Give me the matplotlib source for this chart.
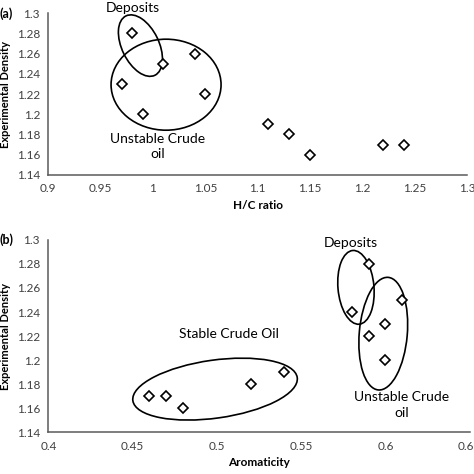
import numpy as np
import matplotlib
matplotlib.use("Agg")
import matplotlib.pyplot as plt
from matplotlib.patches import Ellipse
from matplotlib.transforms import IdentityTransform
from matplotlib.ticker import FuncFormatter

plt.rcParams['font.family'] = ['Lato', 'DejaVu Sans']

# panel (a): H/C ratio vs density
hc_ratio = [0.98, 1.01, 1.04, 0.97, 1.05, 0.99, 1.11, 1.13, 1.15, 1.22, 1.24]
density_a = [1.28, 1.25, 1.26, 1.23, 1.22, 1.20, 1.19, 1.18, 1.16, 1.17, 1.17]

# panel (b): aromaticity vs density
aromaticity = [0.59, 0.58, 0.61, 0.60, 0.59, 0.60, 0.54, 0.52, 0.46, 0.47, 0.48]
density_b = [1.28, 1.24, 1.25, 1.23, 1.22, 1.20, 1.19, 1.18, 1.17, 1.17, 1.16]

density_ticks = np.round(np.arange(1.14, 1.301, 0.02), 2)
hc_ticks = np.round(np.arange(0.9, 1.301, 0.05), 2)
arom_ticks = np.round(np.arange(0.4, 0.651, 0.05), 2)

fmt = FuncFormatter(lambda v, p: f"{v:g}")
tick_col = '#404040'


def setup(ax, xticks, xlabel):
    ax.set_xlim(xticks[0], xticks[-1])
    ax.set_ylim(density_ticks[0], density_ticks[-1])
    ax.set_xticks(xticks)
    ax.set_yticks(density_ticks)
    ax.xaxis.set_major_formatter(fmt)
    ax.yaxis.set_major_formatter(fmt)
    ax.tick_params(length=0, labelsize=8.5, colors=tick_col, pad=6)
    ax.spines['top'].set_visible(False)
    ax.spines['right'].set_visible(False)
    for s in ('left', 'bottom'):
        ax.spines[s].set_color('#5a5a5a')
        ax.spines[s].set_linewidth(1.1)
    ax.set_xlabel(xlabel, fontsize=8.5, fontweight='bold', labelpad=4)
    ax.set_ylabel('Experimental Density', fontsize=8, fontweight='bold', labelpad=4)


def ring(ax, x, y, w, h, angle):
    # ellipse centred on a data point, size in pixels
    cx, cy = ax.transData.transform((x, y))
    ax.add_patch(Ellipse((cx, cy), w, h, angle=angle, transform=IdentityTransform(),
                         fill=False, lw=1.2, ec='black'))


fig = plt.figure(figsize=(4.74, 4.74), dpi=100)
ax1 = fig.add_axes([0.102, 0.631, 0.883, 0.341])
ax2 = fig.add_axes([0.102, 0.088, 0.889, 0.406])

setup(ax1, hc_ticks, 'H/C ratio')
setup(ax2, arom_ticks, 'Aromaticity')

for ax, xs, ys in ((ax1, hc_ratio, density_a), (ax2, aromaticity, density_b)):
    ax.plot(xs, ys, linestyle='none', marker='D', markersize=5,
            markerfacecolor='white', markeredgecolor='black', markeredgewidth=1.2)

ring(ax1, 0.988, 1.268, 66, 37, -64)
ring(ax1, 1.0125, 1.2293, 110, 91, 0)
ring(ax2, 0.5825, 1.2605, 74, 36, -85)
ring(ax2, 0.5987, 1.222, 113, 48, 85)
ring(ax2, 0.4989, 1.1759, 166, 58, 8)

txt = dict(fontsize=10, ha='center', va='center', linespacing=1.35)
ax1.text(0.9805, 1.3057, 'Deposits', **txt)
ax1.text(1.0045, 1.1681, 'Unstable Crude\noil', **txt)
ax2.text(0.5792, 1.2973, 'Deposits', **txt)
ax2.text(0.5072, 1.2215, 'Stable Crude Oil', **txt)
ax2.text(0.6098, 1.1627, 'Unstable Crude\noil', **txt)

fig.text(0.0, 0.972, '(a)', fontsize=9, fontweight='bold', va='center')
fig.text(0.0, 0.494, '(b)', fontsize=9, fontweight='bold', va='center')

fig.savefig('out.png', dpi=100)
